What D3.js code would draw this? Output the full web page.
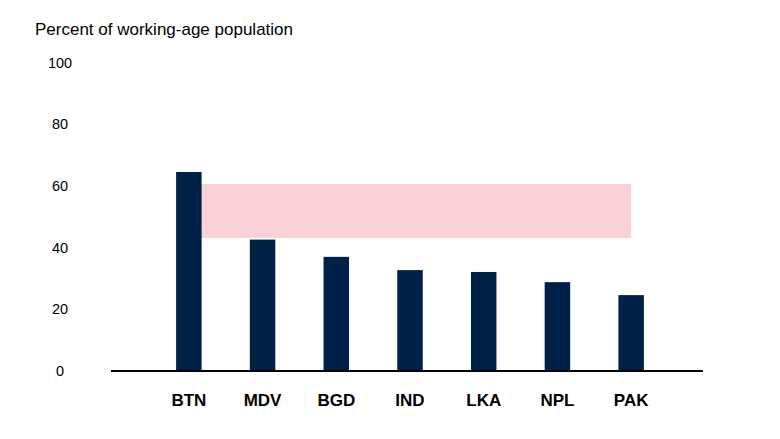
<!DOCTYPE html>
<html>
<head>
  <meta charset="UTF-8">
  <title>Percent of working-age population</title>
  <style>
    body { margin: 0; background: #fff; }
    text { font-family: Arial, "Liberation Sans", sans-serif; fill: #000; }
  </style>
</head>
<body>
  <svg></svg>
  <script src="https://d3js.org/d3.v7.min.js"></script>
  <script>
    // data
    const countries = ["BTN", "MDV", "BGD", "IND", "LKA", "NPL", "PAK"];
    const values = [64.5, 42.6, 37.0, 32.7, 32.1, 28.8, 24.6];
    const bandRange = [43.1, 60.6];   // shaded range
    const yTicks = [0, 20, 40, 60, 80, 100];

    let width = 780, height = 439;
    let svg = d3.select("svg")
        .attr("width", width)
        .attr("height", height)
        .attr("viewBox", "0 0 " + width + " " + height);

    let x = d3.scaleBand()
        .domain(countries)
        .range([152, 668])
        .paddingInner(0.654)
        .paddingOuter(0.327);

    let y = d3.scaleLinear()
        .domain([0, 100])
        .range([371, 62.5]);

    // title
    svg.append("text")
        .attr("x", 35)
        .attr("y", 35)
        .attr("font-size", 17)
        .text("Percent of working-age population");

    // y tick labels (no axis line)
    svg.append("g")
        .selectAll("text")
        .data(yTicks)
        .enter()
        .append("text")
        .attr("x", 60)
        .attr("y", d => y(d))
        .attr("dy", "0.35em")
        .attr("text-anchor", "middle")
        .attr("font-size", 14.5)
        .text(d => d);

    // pink band, from first to last bar centre
    svg.append("rect")
        .attr("x", x(countries[0]) + x.bandwidth() / 2)
        .attr("width", x(countries[countries.length - 1]) - x(countries[0]))
        .attr("y", y(bandRange[1]))
        .attr("height", y(bandRange[0]) - y(bandRange[1]))
        .attr("fill", "#f9d1d7");

    // bars
    svg.append("g")
        .selectAll("rect")
        .data(countries)
        .enter()
        .append("rect")
        .attr("x", d => x(d))
        .attr("width", x.bandwidth())
        .attr("y", (d, i) => y(values[i]))
        .attr("height", (d, i) => y(0) - y(values[i]))
        .attr("fill", "#002147");

    // baseline
    svg.append("line")
        .attr("x1", 111)
        .attr("x2", 703)
        .attr("y1", y(0))
        .attr("y2", y(0))
        .attr("stroke", "#000")
        .attr("stroke-width", 1.8);

    // category labels
    let xAxis = d3.axisBottom(x).tickSize(0).tickPadding(0);
    let gx = svg.append("g")
        .attr("transform", "translate(0, 400)")
        .call(xAxis);
    gx.select(".domain").remove();
    gx.selectAll("text")
        .attr("dy", "0.35em")
        .attr("font-family", "Arial, 'Liberation Sans', sans-serif")
        .attr("font-size", 17)
        .attr("font-weight", "bold")
        .attr("fill", "#000");
  </script>
</body>
</html>
